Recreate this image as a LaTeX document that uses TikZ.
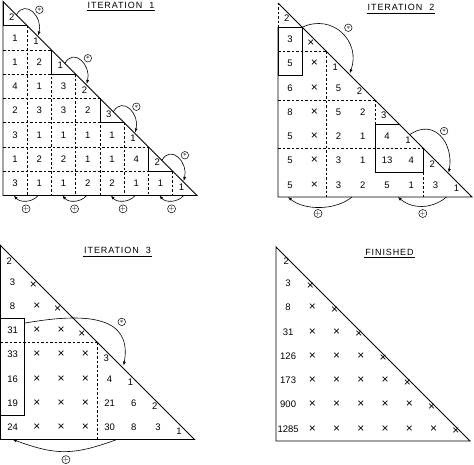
\documentclass[tikz,border=0pt]{standalone}
\usepackage{fontspec}
\setmainfont{Liberation Sans}
\newfontfamily\ttlfont[LetterSpace=10]{Liberation Sans}
\newcommand\xm{{\fontsize{12}{12}\selectfont ×}}
\usetikzlibrary{arrows.meta}

\begin{document}
\begin{tikzpicture}[
  x=1pt, y=1pt,
  num/.style={inner sep=0pt, font=\fontsize{9.5}{11}\selectfont},
  ttl/.style={inner sep=1pt, font=\ttlfont\fontsize{9}{11}\selectfont},
  dline/.style={line width=0.6pt, dash pattern=on 2.5pt off 2pt},
  sline/.style={line width=0.9pt},
  flow/.style={->, line width=0.6pt},
  op/.style={draw, circle, line width=0.5pt, minimum size=7.5pt, inner sep=0pt, font=\fontsize{7}{7}\selectfont},
  >={Latex[length=4pt, width=3pt]}
]
\useasboundingbox (0,0) rectangle (474,-465);

% titles
\node[ttl] (t1) at (121,-5) {ITERATION\hspace{7pt}1};
\node[ttl] (t2) at (401,-7.5) {ITERATION\hspace{7pt}2};
\node[ttl] (t3) at (117.5,-250.5) {ITERATION\hspace{7pt}3};
\node[ttl] (t4) at (389.5,-252) {FINISHED};
\foreach \t in {t1,t2,t3,t4}
  \draw[line width=0.9pt] ([yshift=-1.2pt]\t.south west) -- ([yshift=-1.2pt]\t.south east);

% iteration 1
\begin{scope}[shift={(3,-1.5)}, x=24.25pt, y=24.25pt]
\foreach \k in {1,...,7} {
  \draw[dline] (0,-\k) -- (\k,-\k);
  \draw[dline] (\k,-\k) -- (\k,-8);
}
\foreach \b in {0,2,4,6}
  \draw[sline] (\b,-\b) -- (\b,-\b-1) -- (\b+1,-\b-1);
\draw[sline] (0,0) -- (0,-8) -- (8,-8) -- cycle;
\foreach \r/\vals in {0/{2}, 1/{1,1}, 2/{1,2,1}, 3/{4,1,3,2}, 4/{2,3,3,2,3},
    5/{3,1,1,1,1,1}, 6/{1,2,2,1,1,4,2}, 7/{3,1,1,2,2,1,1,1}} {
  \foreach \v [count=\c from 0] in \vals {
    \pgfmathsetmacro\dx{\c==\r ? 0.36 : 0.5}
    \pgfmathsetmacro\dy{\c==\r ? 0.64 : 0.5}
    \node[num] (a\r\c) at (\c+\dx,-\r-\dy) {\v};
  }
}
% pair steps
\foreach \b in {0,2,4,6} {
  \coordinate (as\b) at (\b+0.55,-\b-0.55);
  \coordinate (ae\b) at (\b+1.45,-\b-1.4);
  \draw[flow] (as\b) to[out=60, in=75, looseness=1.6] (ae\b);
  \node[op] (am\b) at (\b+1.5,-\b-0.34) {$\ast$};
  \coordinate (au\b) at (\b+1.45,-8);
  \coordinate (av\b) at (\b+0.45,-8);
  \draw[flow] (au\b) to[out=-130, in=-50] (av\b);
  \node[op] (ap\b) at (\b+0.95,-8.55) {$+$};
}
\end{scope}

% iteration 2
\begin{scope}[shift={(278,-3)}, x=24.25pt, y=24.25pt]
\draw[dline] (0,0) -- (0,-1);
\draw[dline] (0,-2) -- (2,-2);
\draw[dline] (0,-4) -- (4,-4);
\draw[dline] (0,-6) -- (6,-6);
\draw[dline] (2,-2) -- (2,-8);
\draw[dline] (4,-4) -- (4,-5);
\draw[dline] (6,-7) -- (6,-8);
\draw[sline] (0,-1) rectangle (1,-3);
\draw[sline] (5,-5) -- (4,-5) -- (4,-7) -- (6,-7) -- (6,-6);
\draw[sline] (0,-1) -- (0,-8) -- (8,-8) -- (0,0);
\foreach \r/\vals in {0/{2}, 1/{3,\xm}, 2/{5,\xm,1}, 3/{6,\xm,5,2}, 4/{8,\xm,5,2,3},
    5/{5,\xm,2,1,4,1}, 6/{5,\xm,3,1,13,4,2}, 7/{5,\xm,3,2,5,1,3,1}} {
  \foreach \v [count=\c from 0] in \vals {
    \pgfmathsetmacro\dx{\c==\r ? 0.36 : 0.5}
    \pgfmathsetmacro\dy{\c==\r ? 0.64 : 0.5}
    \node[num] (b\r\c) at (\c+\dx,-\r-\dy) {\v};
  }
}
% block steps
\coordinate (bs1) at (1,-1);
\coordinate (be1) at (2.96,-2.9);
\draw[flow] (bs1) to[out=25, in=70, looseness=1.3] (be1);
\node[op] (bm1) at (2.9,-1.02) {$\ast$};
\coordinate (bs2) at (5.43,-5.43);
\coordinate (be2) at (7.04,-7.0);
\draw[flow] (bs2) to[out=35, in=80, looseness=1.4] (be2);
\node[op] (bm2) at (6.85,-5.28) {$\ast$};
\coordinate (bu1) at (3.05,-8);
\coordinate (bv1) at (0.41,-8);
\draw[flow] (bu1) to[out=-140, in=-40, looseness=0.85] (bv1);
\node[op] (bp1) at (1.65,-8.68) {$+$};
\coordinate (bu2) at (6.95,-8);
\coordinate (bv2) at (4.94,-8);
\draw[flow] (bu2) to[out=-140, in=-40] (bv2);
\node[op] (bp2) at (5.97,-8.68) {$+$};
\end{scope}

% iteration 3
\begin{scope}[shift={(0.5,-245.5)}, x=24.25pt, y=24.25pt]
\draw[dline] (0,-4) -- (4,-4);
\draw[dline] (4,-4) -- (4,-8);
\draw[sline] (0,-3) rectangle (1,-7);
\draw[sline] (0,0) -- (0,-8) -- (8,-8) -- cycle;
\foreach \r/\vals in {0/{2}, 1/{3,\xm}, 2/{8,\xm,\xm}, 3/{31,\xm,\xm,\xm}, 4/{33,\xm,\xm,\xm,3},
    5/{16,\xm,\xm,\xm,4,1}, 6/{19,\xm,\xm,\xm,21,6,2}, 7/{24,\xm,\xm,\xm,30,8,3,1}} {
  \foreach \v [count=\c from 0] in \vals {
    \pgfmathsetmacro\dx{\c==\r ? 0.36 : 0.5}
    \pgfmathsetmacro\dy{\c==\r ? 0.64 : 0.5}
    \node[num] (c\r\c) at (\c+\dx,-\r-\dy) {\v};
  }
}
\coordinate (cs) at (1,-3.2);
\coordinate (ce) at (5.08,-4.95);
\draw[flow] (cs) to[out=10, in=80, out looseness=1.6, in looseness=1.15] (ce);
\node[op] (cm) at (5.0,-3.15) {$\ast$};
\coordinate (cu) at (4.8,-8);
\coordinate (cv) at (0.5,-8);
\draw[flow] (cu) to[out=-160, in=-20, looseness=1.15] (cv);
\node[op] (cp) at (2.7,-8.83) {$+$};
\end{scope}

% finished
\begin{scope}[shift={(276,-247)}, x=24.25pt, y=24.25pt]
\draw[sline] (0,0) -- (0,-8) -- (8,-8) -- cycle;
\foreach \r/\vals in {0/{2}, 1/{3,\xm}, 2/{8,\xm,\xm}, 3/{31,\xm,\xm,\xm}, 4/{126,\xm,\xm,\xm,\xm},
    5/{173,\xm,\xm,\xm,\xm,\xm}, 6/{900,\xm,\xm,\xm,\xm,\xm,\xm}, 7/{1285,\xm,\xm,\xm,\xm,\xm,\xm,\xm}} {
  \foreach \v [count=\c from 0] in \vals {
    \pgfmathsetmacro\dx{\c==\r ? 0.42 : 0.5}
    \pgfmathsetmacro\dy{\c==\r ? 0.6 : 0.5}
    \node[num] (d\r\c) at (\c+\dx,-\r-\dy) {\v};
  }
}
\end{scope}
\end{tikzpicture}
\end{document}
